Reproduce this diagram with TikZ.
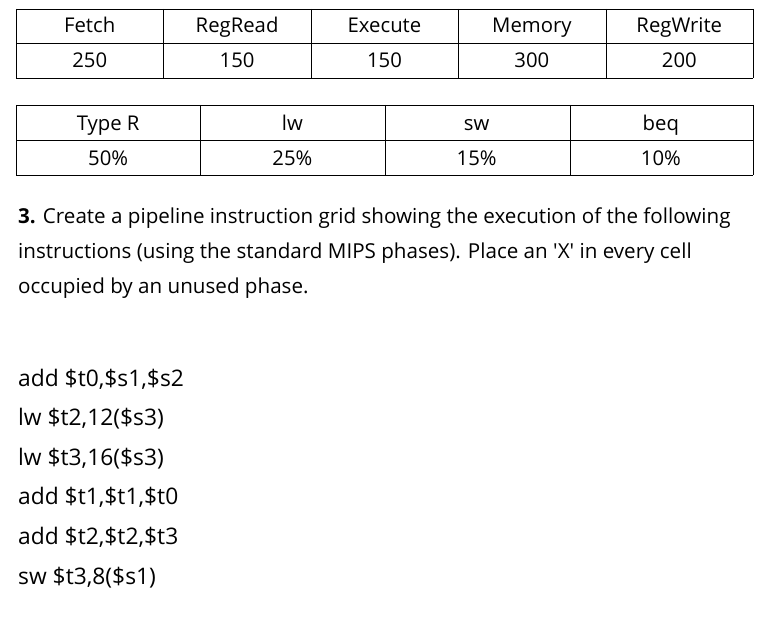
\documentclass[tikz,border=0pt]{standalone}
\usepackage{fontspec}
\setmainfont{Open Sans}
\begin{document}
\begin{tikzpicture}[x=1pt,y=-1pt,
  cell/.style={anchor=base,inner sep=0,font=\fontsize{20.3}{24}\selectfont},
  para/.style={anchor=base west,font=\fontsize{20.6}{24}\selectfont,inner sep=0},
  code/.style={anchor=base west,font=\fontsize{22.8}{27}\selectfont,inner sep=0},
  grid/.style={draw=black,line width=0.8pt}]
\useasboundingbox[fill=white] (0,0) rectangle (769,618);
% table 1
\foreach \y in {9,43,78} \draw[grid] (16,\y) -- (753,\y);
\foreach \x in {16,163,311,458,606,753} \draw[grid] (\x,9) -- (\x,78);
\foreach \n/\a [count=\i] in {Fetch/250,RegRead/150,Execute/150,Memory/300,RegWrite/200}{
  \pgfmathsetmacro{\cx}{16+(\i-0.5)*147.4}
  \node[cell] (h\i) at (\cx,33) {\n};
  \node[cell] (v\i) at (\cx,68) {\a};
}
% table 2
\foreach \y in {105,140,175} \draw[grid] (16,\y) -- (753,\y);
\foreach \x in {16,200,385,570,753} \draw[grid] (\x,105) -- (\x,175);
\foreach \n/\a [count=\i] in {Type R/50\%,lw/25\%,sw/15\%,beq/10\%}{
  \pgfmathsetmacro{\cx}{16+(\i-0.5)*184.25}
  \node[cell] (t\i) at (\cx,130) {\n};
  \node[cell] (p\i) at (\cx,165) {\a};
}
\node[para] (l1) at (18,223) {\textbf{3.} Create a pipeline instruction grid showing the execution of the following};
\node[para] (l2) at (18,258) {instructions (using the standard MIPS phases). Place an \textquotesingle X\textquotesingle{} in every cell};
\node[para] (l3) at (18,293) {occupied by an unused phase.};
\node[code] (c1) at (18,386) {add \$t0,\$s1,\$s2};
\node[code] (c2) at (18,425) {lw \$t2,12(\$s3)};
\node[code] (c3) at (18,465) {lw \$t3,16(\$s3)};
\node[code] (c4) at (18,504) {add \$t1,\$t1,\$t0};
\node[code] (c5) at (18,544) {add \$t2,\$t2,\$t3};
\node[code] (c6) at (18,584) {sw \$t3,8(\$s1)};
\end{tikzpicture}
\end{document}
